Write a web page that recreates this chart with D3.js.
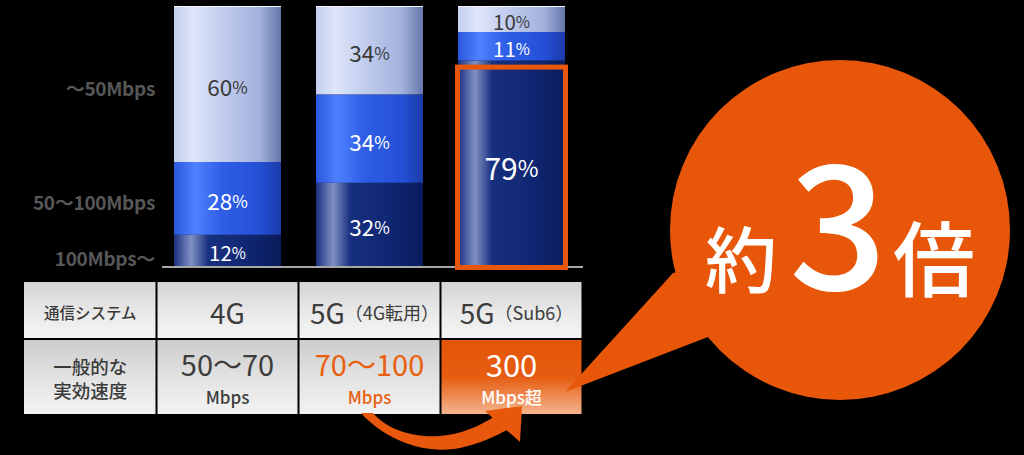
<!DOCTYPE html>
<html>
<head>
<meta charset="utf-8">
<script src="https://cdn.jsdelivr.net/npm/d3@7"></script>
<style>
  html, body { margin: 0; padding: 0; background: #000; }
  svg { display: block; }
  text { font-family: "Noto Sans CJK JP", "Noto Sans", sans-serif; }
</style>
</head>
<body>
<svg id="chart" width="1024" height="455"></svg>
<script>
// ---------------- data ----------------
const categories = ["4G", "5G（4G転用）", "5G（Sub6）"];
const catMain = ["4G", "5G", "5G"];
const catSub = ["", "（4G転用）", "（Sub6）"];
const bandLabels = ["～50Mbps", "50～100Mbps", "100Mbps～"];
const slowShare = [60, 34, 10];   // ～50Mbps
const midShare = [28, 34, 11];    // 50～100Mbps
const fastShare = [12, 32, 79];   // 100Mbps～
const speedMain = ["50～70", "70～100", "300"];
const speedUnit = ["Mbps", "Mbps", "Mbps超"];
const rowHeader1 = "通信システム";
const rowHeader2 = ["一般的な", "実効速度"];
const calloutText = ["約", "3", "倍"];
const highlightIndex = 2;

// ---------------- setup ----------------
const svg = d3.select("#chart");
const W = 1024, H = 455;
svg.append("rect").attr("width", W).attr("height", H).attr("fill", "#000");

const defs = svg.append("defs");
function hGrad(id, stops) {
  const g = defs.append("linearGradient").attr("id", id)
    .attr("x1", 0).attr("y1", 0).attr("x2", 1).attr("y2", 0);
  stops.forEach(s => g.append("stop").attr("offset", s[0]).attr("stop-color", s[1]));
}
function vGrad(id, stops) {
  const g = defs.append("linearGradient").attr("id", id)
    .attr("x1", 0).attr("y1", 0).attr("x2", 0).attr("y2", 1);
  stops.forEach(s => g.append("stop").attr("offset", s[0]).attr("stop-color", s[1]));
}
hGrad("gSlow", [[0, "#c4cff0"], [0.18, "#dfe6fa"], [0.45, "#c2cdee"], [0.8, "#a3b2dc"], [1, "#6676aa"]]);
hGrad("gMid", [[0, "#2a58dc"], [0.2, "#4f80ff"], [0.45, "#2e5ee6"], [0.8, "#2450d6"], [1, "#1a3aa8"]]);
hGrad("gFast", [[0, "#1c3080"], [0.16, "#8090c4"], [0.32, "#17307f"], [0.7, "#0f2672"], [1, "#0b1c5c"]]);
vGrad("gCell", [[0, "#cdcdcd"], [0.55, "#e4e4e4"], [1, "#f3f3f3"]]);
vGrad("gCellTop", [[0, "#d4d4d4"], [0.6, "#ebebeb"], [1, "#f4f4f4"]]);
vGrad("gOrange", [[0, "#e4560a"], [0.5, "#e65c10"], [1, "#f5b58f"]]);

// ---------------- scales ----------------
const x = d3.scaleBand().domain(categories).range([174, 565]).paddingInner(0.2465);
const y = d3.scaleLinear().domain([0, 100]).range([266, 6]);

const rows = categories.map((c, i) => ({ cat: c, fast: fastShare[i], mid: midShare[i], slow: slowShare[i] }));
const keys = ["fast", "mid", "slow"];
const stack = d3.stack().keys(keys)(rows);
const fillFor = { fast: "url(#gFast)", mid: "url(#gMid)", slow: "url(#gSlow)" };
const textFor = { fast: "#ffffff", mid: "#ffffff", slow: "#3a3a3a" };

// ---------------- bars ----------------
const gBars = svg.append("g");
stack.forEach(layer => {
  const k = layer.key;
  gBars.selectAll(null).data(layer).enter().append("rect")
    .attr("x", d => x(d.data.cat))
    .attr("y", d => y(d[1]))
    .attr("width", x.bandwidth())
    .attr("height", d => y(d[0]) - y(d[1]))
    .attr("fill", fillFor[k]);
});
gBars.selectAll(null).data(categories).enter().append("rect")
  .attr("x", d => x(d)).attr("y", y(100)).attr("width", x.bandwidth()).attr("height", 1)
  .attr("fill", "#f2f4ff");

// baseline
svg.append("line")
  .attr("x1", 162).attr("x2", 583).attr("y1", y(0) + 1).attr("y2", y(0) + 1)
  .attr("stroke", "#a8a8a8").attr("stroke-width", 2);

// highlight box
{
  const d = stack[0][highlightIndex];
  svg.append("rect")
    .attr("x", x(categories[highlightIndex]) - 0.5)
    .attr("y", y(d[1]) + 6.5)
    .attr("width", x.bandwidth() + 1)
    .attr("height", y(d[0]) - y(d[1]) - 5)
    .attr("fill", "none").attr("stroke", "#e8580c").attr("stroke-width", 5);
}

// percent labels
stack.forEach(layer => {
  const k = layer.key;
  layer.forEach(d => {
    const v = d[1] - d[0];
    const big = v > 70;
    const small = v < 15 && d[1] - d[0] < 15 && y(d[0]) - y(d[1]) < 32;
    const cx = x(d.data.cat) + x.bandwidth() / 2;
    const cy = (y(d[0]) + y(d[1])) / 2 + 2 + (big ? 2 : 0);
    const fs = big ? 30 : (small ? 20.5 : 22.5);
    const t = svg.append("text")
      .attr("x", cx).attr("y", cy)
      .attr("text-anchor", "middle").attr("dominant-baseline", "central")
      .attr("font-family", "'DejaVu Sans', sans-serif")
      .attr("fill", textFor[k]).attr("font-weight", 400)
      .attr("font-size", fs);
    t.append("tspan").text(v);
    t.append("tspan").text("%").attr("font-size", fs * 0.75);
  });
});

// left band labels (aligned to first bar's segments)
const bandOrder = ["slow", "mid", "fast"];
bandOrder.forEach((k, i) => {
  const d = stack[keys.indexOf(k)][0];
  svg.append("text")
    .attr("x", 155)
    .attr("y", (y(d[0]) + y(d[1])) / 2 + 3 + (k === "fast" ? 4 : 0))
    .attr("text-anchor", "end").attr("dominant-baseline", "central")
    .attr("font-family", "'DejaVu Sans', 'Noto Sans CJK JP', sans-serif")
    .attr("fill", "#575757").attr("font-weight", 700).attr("font-size", 19)
    .attr("letter-spacing", -0.3)
    .text(bandLabels[i]);
});

// ---------------- table ----------------
const tTop = 282, tMid = 339, tBot = 414, tLeft = 24;
const colX = c => x(c) + x.bandwidth() / 2 - x.step() / 2;
const gT = svg.append("g");
gT.append("rect").attr("x", tLeft).attr("y", tTop).attr("width", colX(categories[0]) - tLeft - 1)
  .attr("height", tMid - tTop - 1).attr("fill", "url(#gCellTop)");
gT.append("rect").attr("x", tLeft).attr("y", tMid + 1).attr("width", colX(categories[0]) - tLeft - 1)
  .attr("height", tBot - tMid - 1).attr("fill", "url(#gCell)");
categories.forEach((c, i) => {
  gT.append("rect").attr("x", colX(c) + 1).attr("y", tTop)
    .attr("width", x.step() - 2).attr("height", tMid - tTop - 1).attr("fill", "url(#gCellTop)");
  gT.append("rect").attr("x", colX(c) + 1).attr("y", tMid + 1)
    .attr("width", x.step() - 2).attr("height", tBot - tMid - 1)
    .attr("fill", i === highlightIndex ? "url(#gOrange)" : "url(#gCell)");
});
const hcx = (tLeft + colX(categories[0])) / 2;
gT.append("text").attr("x", hcx).attr("y", 312).attr("text-anchor", "middle")
  .attr("dominant-baseline", "central").attr("font-size", 15.5).attr("font-weight", 500)
  .attr("fill", "#3a3a3a").text(rowHeader1);
rowHeader2.forEach((s, j) => {
  gT.append("text").attr("x", hcx).attr("y", 366 + j * 24).attr("text-anchor", "middle")
    .attr("dominant-baseline", "central").attr("font-size", 18.5).attr("font-weight", 500)
    .attr("fill", "#3a3a3a").text(s);
});
categories.forEach((c, i) => {
  const cx = x(c) + x.bandwidth() / 2;
  const t = gT.append("text").attr("x", cx + (catSub[i] ? 5 : 0)).attr("y", 312).attr("text-anchor", "middle")
    .attr("dominant-baseline", "central").attr("fill", "#3d3d3d");
  t.append("tspan").text(catMain[i]).attr("font-size", 28).attr("font-weight", 400);
  if (catSub[i]) t.append("tspan").text(catSub[i]).attr("font-size", 18).attr("font-weight", 400);
  const col = i === highlightIndex ? "#ffffff" : (i === 1 ? "#e8600e" : "#3d3d3d");
  gT.append("text").attr("x", cx).attr("y", 363).attr("text-anchor", "middle")
    .attr("dominant-baseline", "central").attr("fill", col)
    .attr("font-size", i === highlightIndex ? 31 : 29).attr("font-weight", 400).text(speedMain[i]);
  gT.append("text").attr("x", cx).attr("y", 396).attr("text-anchor", "middle")
    .attr("dominant-baseline", "central").attr("fill", col)
    .attr("font-size", 17).attr("font-weight", 500).text(speedUnit[i]);
});

// ---------------- curved arrow ----------------
svg.append("path")
  .attr("d", "M361,413 C385,440 425,455 460,448 C478,444 494,437 507,430 L495,416 C480,426 462,434 440,436 C410,438 386,428 373,413 Z")
  .attr("fill", "#e8580c");
svg.append("path")
  .attr("d", "M485,411 L522,406 L520,442 Z")
  .attr("fill", "#e8580c");

// ---------------- callout ----------------
const cxC = 840, cyC = 230, rC = 170;
svg.append("path")
  .attr("d", `M673,273 L565,392 L708,337 L${cxC},${cyC} Z`)
  .attr("fill", "#e85709");
svg.append("circle").attr("cx", cxC).attr("cy", cyC).attr("r", rC).attr("fill", "#e85709");
svg.append("text").attr("x", 741).attr("y", 287).attr("text-anchor", "middle")
  .attr("fill", "#fff").attr("font-size", 72).attr("font-weight", 500).text(calloutText[0]);
svg.append("text").attr("x", 838).attr("y", 290).attr("text-anchor", "middle")
  .attr("fill", "#fff").attr("font-size", 172).attr("font-weight", 500)
  .attr("font-family", "Roboto, 'Noto Sans', sans-serif").text(calloutText[1]);
svg.append("text").attr("x", 934).attr("y", 290).attr("text-anchor", "middle")
  .attr("fill", "#fff").attr("font-size", 82).attr("font-weight", 500).text(calloutText[2]);
</script>
</body>
</html>
